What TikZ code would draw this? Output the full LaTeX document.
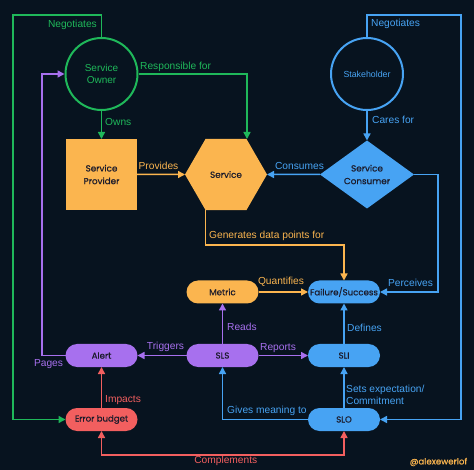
\documentclass[tikz,border=0pt]{standalone}
\usepackage{fontspec}
\setmainfont{Liberation Sans}
\newfontfamily\nodefont[FakeBold=0.6]{Poppins}
\usetikzlibrary{shapes.geometric,arrows.meta,calc}
\definecolor{bg}{HTML}{07131F}
\definecolor{cgreen}{HTML}{1FB85A}
\definecolor{corange}{HTML}{FBB54F}
\definecolor{cblue}{HTML}{47A3F3}
\definecolor{cpurple}{HTML}{A770EE}
\definecolor{cred}{HTML}{F25F5F}
\definecolor{ctext}{HTML}{1B1B2B}
\tikzset{
  pill/.style={rectangle, rounded corners=11.5pt, minimum width=72pt, minimum height=23pt,
    inner sep=0pt, outer sep=0pt, font=\nodefont\fontsize{8.6}{10}\selectfont, text=ctext},
  ringnode/.style={circle, line width=2pt, minimum size=72pt, inner sep=0pt, outer sep=1pt, align=center},
  lbl/.style={font=\fontsize{10.2}{12.3}\selectfont, inner sep=0pt},
  conn/.style={line width=1.5pt, -{Triangle[length=7pt,width=7pt]}},
}
\begin{document}
\begin{tikzpicture}[x=1pt,y=-1pt]
\fill[bg] (0,0) rectangle (474,470);
\useasboundingbox (0,0) rectangle (474,470);

% nodes
\node[ringnode, draw=cgreen, text=cgreen, font=\fontsize{10}{12.3}\selectfont] (owner) at (101.5,74) {Service\\Owner};
\node[ringnode, draw=cblue, text=cblue, font=\fontsize{8.8}{10}\selectfont] (stake) at (367,74) {Stakeholder};
\node[rectangle, fill=corange, minimum width=71pt, minimum height=71pt, inner sep=0pt, outer sep=0pt,
  align=center, text=ctext, font=\nodefont\fontsize{8.8}{12.7}\selectfont] (provider) at (101.5,174.5) {Service\\Provider};
\node[regular polygon, regular polygon sides=6, minimum size=82pt, inner sep=0pt, outer sep=0pt,
  fill=corange, text=ctext, font=\nodefont\fontsize{8.8}{10}\selectfont] (service) at (226,174.5) {Service};
\node[diamond, aspect=1.38, minimum width=94pt, minimum height=68pt, inner sep=0pt, outer sep=0pt,
  fill=cblue, align=center, text=ctext, font=\nodefont\fontsize{8.8}{12.7}\selectfont] (consumer) at (367,174.5) {Service\\Consumer};
\node[pill, fill=cblue] (fs) at (344,292) {Failure/Success};
\node[pill, fill=corange] (metric) at (222.5,292) {Metric};
\node[pill, fill=cpurple] (sls) at (222.5,355.5) {SLS};
\node[pill, fill=cblue] (sli) at (344,355.5) {SLI};
\node[pill, fill=cpurple] (alert) at (101.5,355.5) {Alert};
\node[pill, fill=cred] (eb) at (101.5,419.5) {Error budget};
\node[pill, fill=cblue] (slo) at (344,419.5) {SLO};

\coordinate (svcbl) at (205.5,210);
\coordinate (svctr) at (247,139);

% connectors
\draw[conn, cgreen] (owner.north) |- (13,15) |- (eb.west);
\node[lbl, text=cgreen, anchor=east] (negl) at (97,25) {Negotiates};
\draw[conn, cgreen] (owner.east) -| (svctr);
\node[lbl, text=cgreen, anchor=west] (respl) at (140,67) {Responsible for};
\draw[conn, cgreen] (owner.south) -- (provider.north);
\node[lbl, text=cgreen, anchor=west] (ownsl) at (105,122) {Owns};
\draw[conn, corange] (provider.east) -- (service.west);
\node[lbl, text=corange] (provl) at (158.5,166) {Provides};

\draw[conn, cblue] (stake.north) |- (461,15) |- (slo.east);
\node[lbl, text=cblue, anchor=west] (negr) at (371,24) {Negotiates};
\draw[conn, cblue] (stake.south) -- (consumer.north);
\node[lbl, text=cblue, anchor=west] (caresl) at (372,120) {Cares for};
\draw[conn, cblue] (consumer.west) -- (service.east);
\node[lbl, text=cblue] (consl) at (299.5,166) {Consumes};
\draw[conn, cblue] (consumer.east) -| (438,240) |- (fs.east);
\node[lbl, text=cblue] (percl) at (410.5,283) {Perceives};

\draw[conn, corange] (svcbl) |- (270,245) -| (fs.north);
\node[lbl, text=corange, anchor=west] (genl) at (209,236) {Generates data points for};
\draw[conn, corange] (metric.east) -- (fs.west);
\node[lbl, text=corange] (quantl) at (281,282) {Quantifies};

\draw[conn, cpurple] (sls.north) -- (metric.south);
\node[lbl, text=cpurple, anchor=west] (readl) at (227,327) {Reads};
\draw[conn, cpurple] (sls.east) -- (sli.west);
\node[lbl, text=cpurple] (repl) at (278,348) {Reports};
\draw[conn, cblue] (sli.north) -- (fs.south);
\node[lbl, text=cblue, anchor=west] (defl) at (347,328) {Defines};
\draw[conn, cpurple] (sls.west) -- (alert.east);
\node[lbl, text=cpurple] (trigl) at (165.5,347) {Triggers};
\draw[conn, cpurple] (alert.west) -| (42,200) |- (owner.west);
\node[lbl, text=cpurple] (pagel) at (48.5,364) {Pages};

\draw[conn, cred] (eb.north) -- (alert.south);
\node[lbl, text=cred, anchor=west] (impl) at (105,400) {Impacts};
\draw[conn, cblue] (slo.north) -- (sli.south);
\node[lbl, text=cblue, anchor=west, align=left] (setl) at (346,395) {Sets expectation/\\Commitment};
\draw[conn, cblue] (slo.west) -| (sls.south);
\node[lbl, text=cblue, anchor=west] (givl) at (227,411) {Gives meaning to};
\draw[line width=1.5pt, cred, {Triangle[length=7pt,width=7pt]}-{Triangle[length=7pt,width=7pt]}] (eb.south) |- (220,455) -| (slo.south);
\node[lbl, text=cred] (compl) at (225.8,461) {Complements};

\node[text=corange, font=\nodefont\fontsize{8.6}{10}\selectfont, inner sep=0pt] (wm) at (438.5,462) {@alexewerlof};
\end{tikzpicture}
\end{document}
